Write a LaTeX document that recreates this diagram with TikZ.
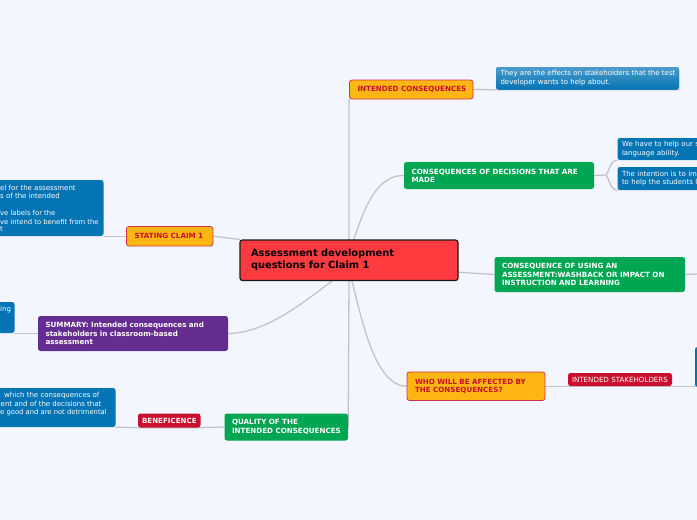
\documentclass[tikz,border=0pt]{standalone}
\usepackage{fontspec}
\setmainfont{DejaVu Sans}
\usetikzlibrary{backgrounds,calc}
\definecolor{bgc}{HTML}{F3F6FF}
\definecolor{linec}{HTML}{C2C3CC}
\definecolor{redc}{HTML}{FF3B3F}
\definecolor{orangec}{HTML}{FFB612}
\definecolor{crimc}{HTML}{C8102E}
\definecolor{greenc}{HTML}{00A651}
\definecolor{bluec}{HTML}{0474B4}
\definecolor{bluet}{HTML}{4C9CCB}
\definecolor{purplec}{HTML}{662D91}
\tikzset{
 base/.style={rounded corners=2.5pt,inner ysep=0pt,align=left,anchor=center},
 rootbox/.style={base,fill=redc,draw=black!90,line width=1.2pt,text=black,font=\bfseries\fontsize{9.9}{12}\selectfont},
 orangebox/.style={base,fill=orangec,draw=crimc!85,line width=.8pt,text=crimc,font=\bfseries\fontsize{7.15}{8.3}\selectfont},
 greenbox/.style={base,fill=greenc,text=white,font=\bfseries\fontsize{7.15}{8.3}\selectfont},
 purplebox/.style={base,fill=purplec,text=white,font=\bfseries\fontsize{7.15}{8.6}\selectfont},
 crimbox/.style={base,fill=crimc,text=white,font=\fontsize{7.1}{8}\selectfont},
 crimbold/.style={crimbox,font=\bfseries\fontsize{7.1}{8}\selectfont},
 bluebox/.style={base,fill=bluec,text=white,font=\fontsize{7}{8.7}\selectfont},
 gradbox/.style={bluebox,top color=bluet,bottom color=bluec},
 frag/.style={anchor=west,inner sep=0pt,text=white,font=\fontsize{7}{8.7}\selectfont},
 fragn/.style={frag,font=\fontsize{6.8}{8.7}\selectfont},
 link/.style={draw=linec,line width=1.3pt,line cap=round},
}
% pad, style, name, x0, y0, x1, y1, text
\newcommand{\bx}[8]{%
 \pgfmathsetmacro\cxv{(#4+#6)/2}%
 \pgfmathsetmacro\cyv{(#5+#7)/2}%
 \pgfmathsetmacro\wv{#6-#4}%
 \pgfmathsetmacro\hv{#7-#5}%
 \pgfmathsetmacro\tv{#6-#4-2*#1}%
 \node[#2,inner xsep=#1pt,text width=\tv pt,minimum height=\hv pt] (#3) at (\cxv,\cyv) {#8};}
\begin{document}
\begin{tikzpicture}[x=1pt,y=-1pt]
\useasboundingbox (0,0) rectangle (697,520);
\clip (0,0) rectangle (697,520);
\begin{scope}[on background layer]
\fill[bgc] (0,0) rectangle (697,520);
\end{scope}
\bx{11}{rootbox}{root}{240}{240}{458}{280.5}{Assessment development\\questions for Claim 1}
\bx{8}{orangebox}{intended}{349.5}{80}{473}{99}{\mbox{INTENDED CONSEQUENCES}}
\bx{4.5}{gradbox}{effects}{496}{67}{679}{89.5}{\mbox{They are the effects on stakeholders that the test}\\developer wants to help about.}
\bx{7.5}{greenbox}{decisions}{404}{162}{594}{189}{\mbox{CONSEQUENCES OF DECISIONS THAT ARE}\\MADE}
\bx{4.5}{bluebox}{helpbox}{617.5}{138}{760}{160}{We have to help our s\\language ability.}
\bx{4.5}{bluebox}{intentbox}{617.5}{167}{760}{190}{The intention is to im\\to help the students l}
\bx{7.5}{greenbox}{using}{494.5}{257}{685}{292}{CONSEQUENCE OF USING AN\\\mbox{ASSESSMENT:WASHBACK OR IMPACT ON}\\INSTRUCTION AND LEARNING}
\bx{8}{orangebox}{who}{407}{372}{545}{400.5}{WHO WILL BE AFFECTED BY\\THE CONSEQUENCES?}
\bx{4}{crimbox}{stake}{568}{373}{672}{386}{\mbox{INTENDED STAKEHOLDERS}}
\bx{1}{bluebox}{stakeblue}{695}{347}{760}{387}{}
\bx{8}{orangebox}{stating}{126.5}{226.5}{213}{246}{\mbox{STATING CLAIM 1}}
\bx{1}{bluebox}{leftblue}{-20}{180}{103.5}{236}{}
\node[frag] (la) at (0,187.5) {el for the assessment};
\node[frag] (lb) at (0,195.5) {s of the intended};
\node[fragn] (lc) at (0,212.5) {ve labels for the};
\node[fragn] (ld) at (0,221.5) {ve intend to benefit from the};
\node[frag] (le) at (0,229.5) {t};
\bx{7.5}{purplebox}{summary}{38}{316}{228}{351}{\mbox{SUMMARY: Intended consequences and}\\stakeholders in classroom-based\\assessment}
\bx{1}{bluebox}{ingblue}{-20}{302}{14.5}{333}{}
\node[frag] (ma) at (0,309.5) {ing};
\bx{1}{bluebox}{benblue}{-20}{388}{115.5}{427}{}
\node[frag] (na) at (4,395.5) {which the consequences of};
\node[frag] (nb) at (0.5,403.5) {ent and of the decisions that};
\node[fragn] (nc) at (0,412.5) {e good and are not detrimental};
\bx{4}{crimbold}{benef}{138}{413.5}{200.5}{427.5}{\mbox{BENEFICENCE}}
\bx{7.5}{greenbox}{quality}{224.5}{413.5}{348}{440.5}{QUALITY OF THE\\\mbox{INTENDED CONSEQUENCES}}
\begin{scope}[on background layer]
\draw[link] (root.north) -- (intended.south west);
\draw[link] (root.south) -- (quality.east);
\draw[link] (intended.east) -- (effects.south west) -- (effects.south east);
\draw[link] ($(root.north)+(5,0)$) .. controls (365,205) and (378,175) .. (decisions.west);
\draw[link] (decisions.east) -- (606,175) .. controls (610,170) and (610,160) .. (helpbox.south west);
\draw[link] (606,175) .. controls (610,180) and (610,190) .. (intentbox.south west);
\draw[link] ($(root.east)+(0,12)$) -- (using.west);
\draw[link] (using.east) -- (697,274);
\draw[link] ($(root.south)+(3,0)$) .. controls (362,320) and (375,386) .. (who.south west |- stake.south);
\draw[link] (who.east |- stake.south) -- (stake.south west) -- (stake.south east) -- (stakeblue.south west |- stake.south);
\draw[link] (stating.east) -- (root.north west);
\draw[link] (stating.south west |- leftblue.south) -- (leftblue.south east);
\draw[link] ($(root.south)+(-17,0)$) .. controls (300,305) and (265,333) .. (summary.east);
\draw[link] (summary.west |- ingblue.south) -- (ingblue.south east);
\draw[link] (quality.west) -- (benef.south east) -- (benef.south west) -- (benblue.south east);
\end{scope}
\end{tikzpicture}
\end{document}
